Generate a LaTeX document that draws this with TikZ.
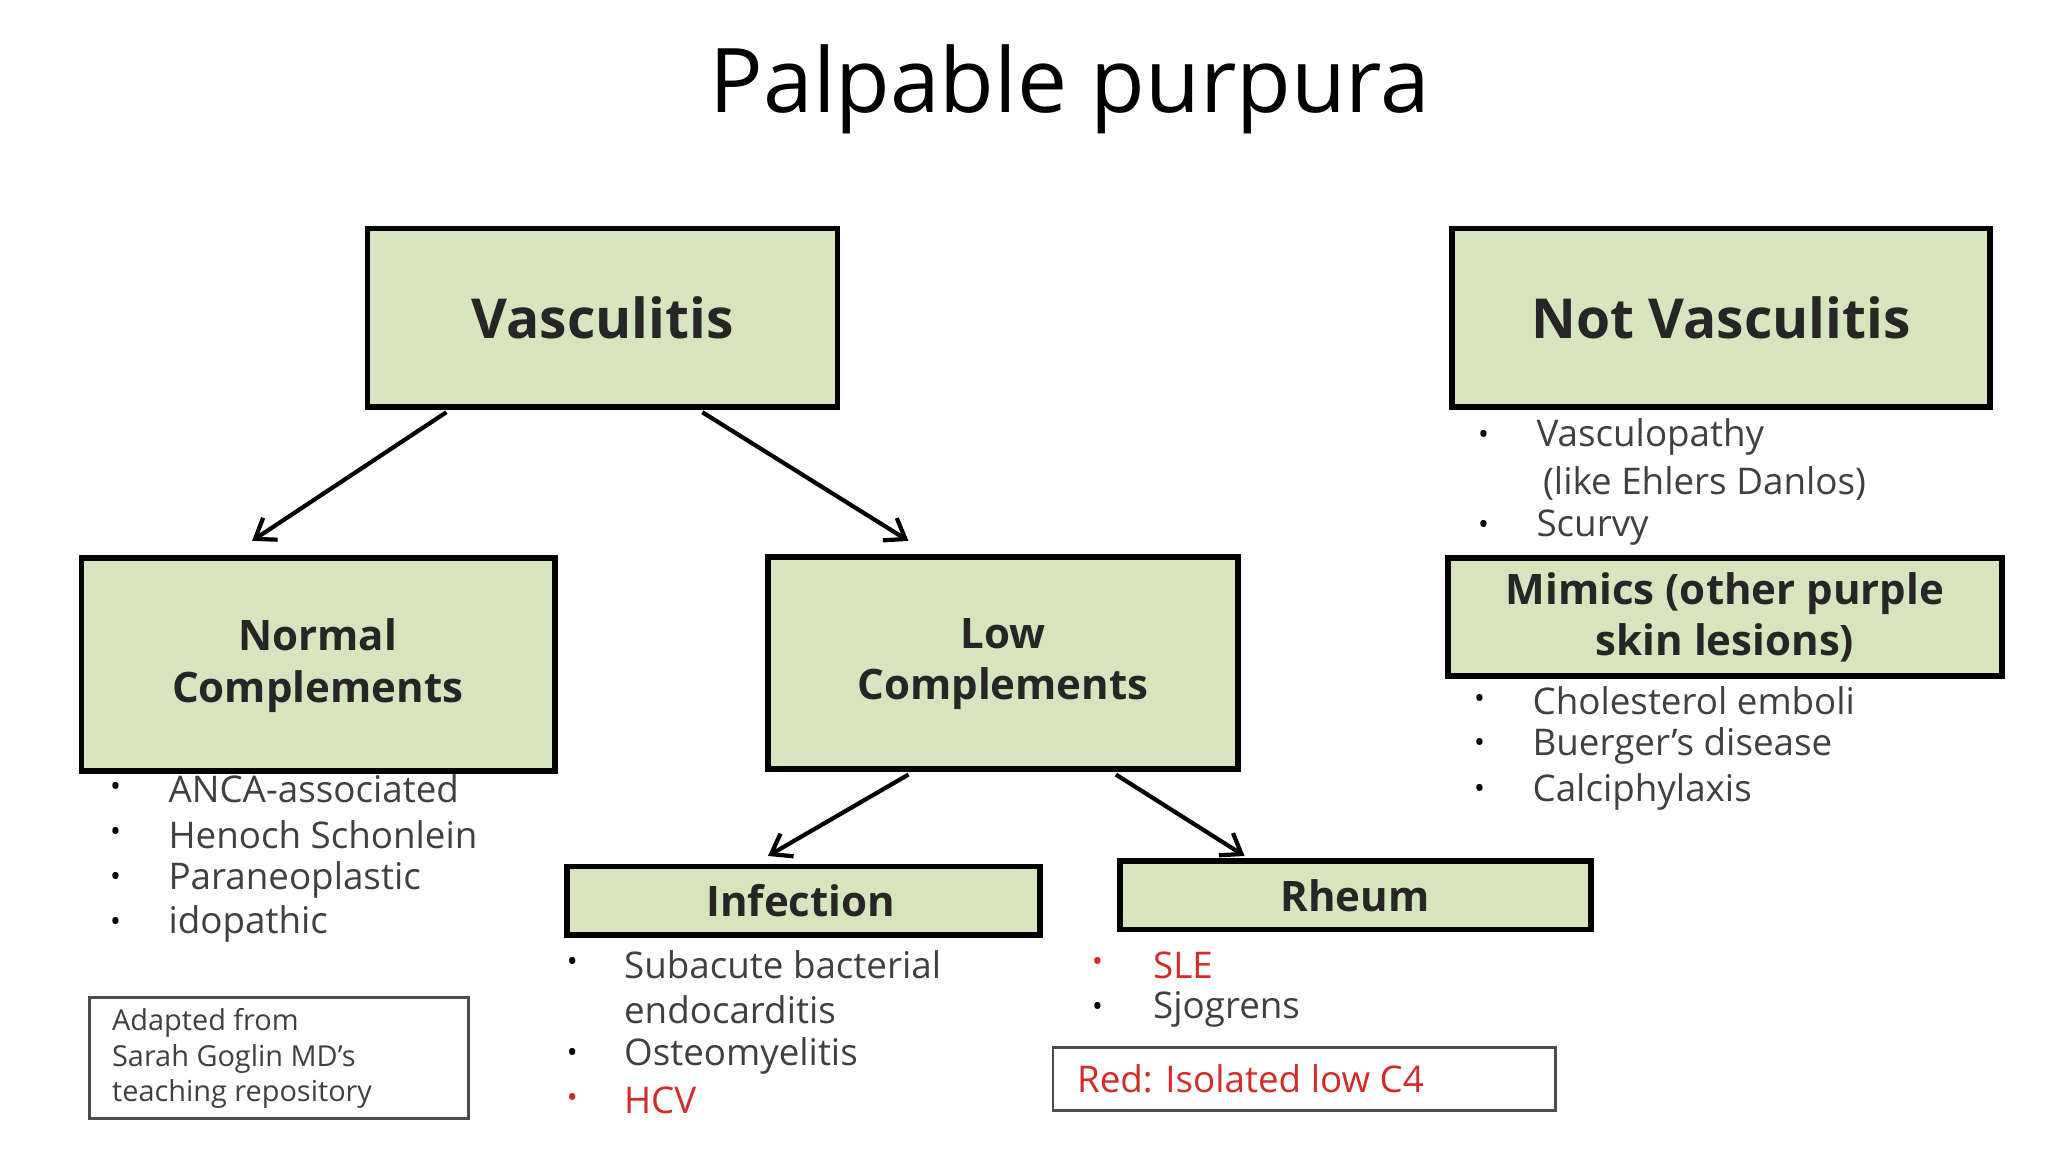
\documentclass[tikz,border=0pt]{standalone}
\usepackage{fontspec}
\setmainfont{Open Sans}
\usetikzlibrary{arrows.meta}
\definecolor{boxgreen}{HTML}{D7E4BD}
\definecolor{txtred}{HTML}{D42A2A}
\definecolor{txtgray}{HTML}{404040}
\begin{document}
\begin{tikzpicture}[x=0.5pt,y=-0.5pt,
  gbox/.style={draw=black,line width=2.2pt,fill=boxgreen},
  item/.style={anchor=west,inner sep=0pt,font=\fontsize{14}{16}\selectfont,text=txtgray},
  bul/.style={anchor=center,inner sep=0pt,font=\fontsize{11}{13}\selectfont},
  arr/.style={-{Straight Barb[length=7pt,width=10pt]},line width=1.6pt},
  btitle/.style={align=center,font=\bfseries\fontsize{16}{19.5}\selectfont,text=black!85}]
\useasboundingbox (0,0) rectangle (1560,877.5);
\fill[white] (0,0) rectangle (1560,877.5);
\node (title) at (815,68) {\fontsize{34}{38}\selectfont Palpable purpura};
% boxes
\draw[gbox] (280,174) rectangle (638,310);
\node[btitle,font=\bfseries\fontsize{21}{24}\selectfont] (vasc) at (459,242) {Vasculitis};
\draw[gbox] (1106,174) rectangle (1516,310);
\node[btitle,font=\bfseries\fontsize{21}{24}\selectfont] (notv) at (1311,242) {Not Vasculitis};
\draw[gbox] (62,425) rectangle (423,587);
\node[btitle] (norm) at (242,507) {Normal\\Complements};
\draw[gbox] (585,424) rectangle (943,586);
\node[btitle] (low) at (764,506) {Low\\Complements};
\draw[gbox] (1103,425) rectangle (1525,515);
\node[btitle] (mim) at (1314,470) {Mimics (other purple\\skin lesions)};
\draw[gbox] (432,660) rectangle (792,712);
\node[btitle] (inf) at (610,686) {Infection};
\draw[gbox] (853,656) rectangle (1212,708);
\node[btitle] (rheum) at (1032,682) {Rheum};
% arrows
\coordinate (a1s) at (340,314); \coordinate (a1e) at (192,412);
\coordinate (a2s) at (535,314); \coordinate (a2e) at (692,412);
\coordinate (a3s) at (692,590); \coordinate (a3e) at (585,652);
\coordinate (a4s) at (850,590); \coordinate (a4e) at (948,652);
\draw[arr] (a1s) -- (a1e);
\draw[arr] (a2s) -- (a2e);
\draw[arr] (a3s) -- (a3e);
\draw[arr] (a4s) -- (a4e);
% Not vasculitis list
\node[bul] (b1) at (1130,333) {•}; \node[item] (t1) at (1170,333) {Vasculopathy};
\node[item] (t1b) at (1175,368) {(like Ehlers Danlos)};
\node[bul] (b2) at (1130,402) {•}; \node[item] (t2) at (1170,402) {Scurvy};
% Mimics list
\node[bul] (b3) at (1127,534) {•}; \node[item] (t3) at (1167,534) {Cholesterol emboli};
\node[bul] (b4) at (1127,568) {•}; \node[item] (t4) at (1167,568) {Buerger’s disease};
\node[bul] (b5) at (1127,603) {•}; \node[item] (t5) at (1167,603) {Calciphylaxis};
% Normal list
\node[bul] (b6) at (88,601) {•}; \node[item] (t6) at (128,601) {ANCA-associated};
\node[bul] (b7) at (88,636) {•}; \node[item] (t7) at (128,636) {Henoch Schonlein};
\node[bul] (b8) at (88,670) {•}; \node[item] (t8) at (128,670) {Paraneoplastic};
\node[bul] (b9) at (88,704) {•}; \node[item] (t9) at (128,704) {idopathic};
% Infection list
\node[bul] (b10) at (436,735) {•}; \node[item] (t10) at (475,735) {Subacute bacterial};
\node[item] (t10b) at (475,769) {endocarditis};
\node[bul] (b11) at (436,804) {•}; \node[item] (t11) at (475,804) {Osteomyelitis};
\node[bul,text=txtred] (b12) at (436,838) {•}; \node[item,text=txtred] (t12) at (475,838) {HCV};
% Rheum list
\node[bul,text=txtred] (b13) at (836,735) {•}; \node[item,text=txtred] (t13) at (878,735) {SLE};
\node[bul] (b14) at (836,769) {•}; \node[item] (t14) at (878,769) {Sjogrens};
% red legend
\draw[line width=1pt,draw=black!70] (802,798) rectangle (1185,846);
\node[item,text=txtred] (leg) at (820,822) {Red: Isolated low C4};
% adapted box
\draw[line width=1pt,draw=black!70] (68,760) rectangle (357,852);
\node[anchor=north west,inner sep=0pt,align=left,text=txtgray,font=\fontsize{11}{13.5}\selectfont] (adapt) at (85,768) {Adapted from\\Sarah Goglin MD’s\\teaching repository};
\end{tikzpicture}
\end{document}
